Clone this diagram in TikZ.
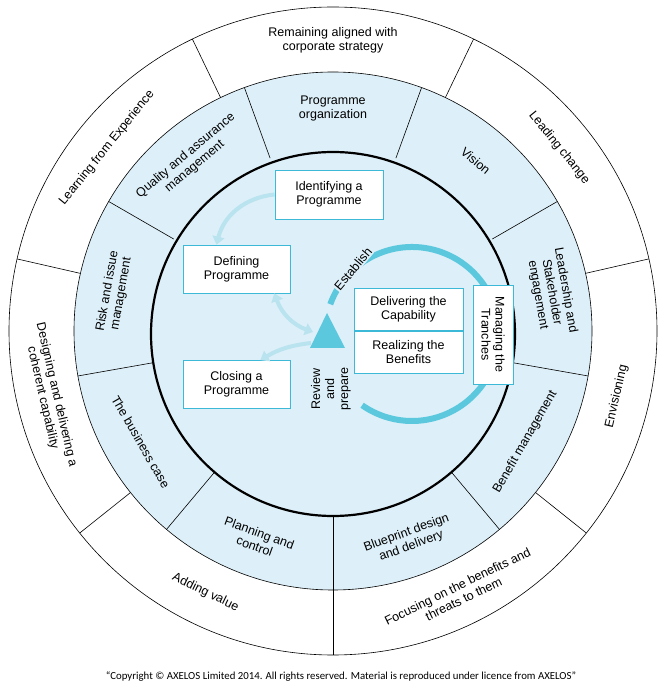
\documentclass[tikz,border=0pt]{standalone}
\usepackage{fontspec}
\setmainfont{Liberation Sans}
\newfontfamily\notefont{Carlito}
\usetikzlibrary{arrows.meta,positioning}
\definecolor{ringblue}{HTML}{DDEFF8}
\definecolor{boxcyan}{HTML}{3CB9D6}
\definecolor{arccyan}{HTML}{5BC8DE}
\definecolor{palecyan}{HTML}{B9E3EF}
\tikzset{
  ringtext/.style={align=center, inner sep=1pt, font=\fontsize{12.5}{14}\selectfont},
  stage/.style={draw=boxcyan, thick, fill=white, align=center, font=\fontsize{12.5}{14}\selectfont},
  pale/.style={draw=palecyan, line width=4pt, -{Triangle[length=8pt,width=12pt]}},
}
\begin{document}
\begin{tikzpicture}[x=1pt,y=1pt]
\useasboundingbox (-333,-361) rectangle (332,331);
% rings
\fill[white] (0,0) circle (324);
\draw[line width=0.6pt] (0,0) circle (324);
\fill[ringblue,draw=black,line width=0.6pt] (0,0) circle (259);
\foreach \a in {0,...,6} \draw[line width=0.6pt] (270+\a*51.43:259) -- (270+\a*51.43:324);
\foreach \a in {0,...,8} \draw[line width=0.6pt] (270+\a*40:184) -- (270+\a*40:259);
\draw[line width=2.2pt] (0,-3) circle (182);
% outer labels
\node[ringtext] (o1) at (90:291) {Remaining aligned with\\corporate strategy};
\node[ringtext,rotate=-51] (o2) at (39:291) {Leading change};
\node[ringtext,rotate=77] (o3) at (347:291) {Envisioning};
\node[ringtext,rotate=26] (o4) at (296:291) {Focusing on the benefits and\\threats to them};
\node[ringtext,rotate=-26] (o5) at (244:291) {Adding value};
\node[ringtext,rotate=-77] (o6) at (193:291) {Designing and delivering a\\coherent capability};
\node[ringtext,rotate=51] (o7) at (141:291) {Learning from Experience};
% middle labels
\node[ringtext] (m1) at (90:222) {Programme\\organization};
\node[ringtext,rotate=-40] (m2) at (50:222) {Vision};
\node[ringtext,rotate=-80] (m3) at (10:222) {Leadership and\\Stakeholder\\engagement};
\node[ringtext,rotate=60] (m4) at (330:222) {Benefit management};
\node[ringtext,rotate=20] (m5) at (290:222) {Blueprint design\\and delivery};
\node[ringtext,rotate=-20] (m6) at (250:222) {Planning and\\control};
\node[ringtext,rotate=-60] (m7) at (210:222) {The business case};
\node[ringtext,rotate=80] (m8) at (170:222) {Risk and issue\\management};
\node[ringtext,rotate=40] (m9) at (130:222) {Quality and assurance\\management};
% tranche cycle
\coordinate (cyc) at (79,-3);
\draw[arccyan, line width=6pt] (cyc) ++(160:87) arc (160:-125:87);
\node[stage, minimum width=108pt, minimum height=49pt] (ident) at (-4,136.5) {Identifying a\\Programme};
\node[stage, minimum width=107pt, minimum height=48pt] (defin) at (-96.5,62) {Defining\\Programme};
\node[stage, minimum width=107pt, minimum height=48pt] (closg) at (-96.5,-53.5) {Closing a\\Programme};
\node[stage, minimum width=109pt, minimum height=42pt] (deliv) at (75.5,21.5) {Delivering the\\Capability};
\node[stage, minimum width=109pt, minimum height=42pt, below=0pt of deliv] (realz) {Realizing the\\Benefits};
\node[stage, minimum width=99pt, minimum height=40pt, rotate=-90] (tranch) at (160,-3.5) {Managing the\\Tranches};
\node[ringtext, rotate=50, fill=ringblue] (estab) at (20,62) {Establish};
\node[ringtext, rotate=90] (revw) at (-2,-58) {Review\\and\\prepare};
\fill[arccyan] (-6,18) -- (-23,-17) -- (12,-17) -- cycle;
\coordinate (tri) at (-20,-1);
\coordinate (tril) at (-22,-12);
% transitions
\draw[pale] (ident.west) to[bend right=35] ([xshift=-20pt]defin.north);
\draw[pale, {Triangle[length=8pt,width=12pt]}-{Triangle[length=8pt,width=12pt]}] ([xshift=-16pt]defin.south east) to[bend right=25] (tri);
\draw[pale] (tril) to[bend right=12] ([xshift=-30pt]closg.north east);
% footer
\node[font=\notefont\fontsize{10.8}{12}\selectfont] (copy) at (8,-346) {“Copyright © AXELOS Limited 2014. All rights reserved. Material is reproduced under licence from AXELOS”};
\end{tikzpicture}
\end{document}
